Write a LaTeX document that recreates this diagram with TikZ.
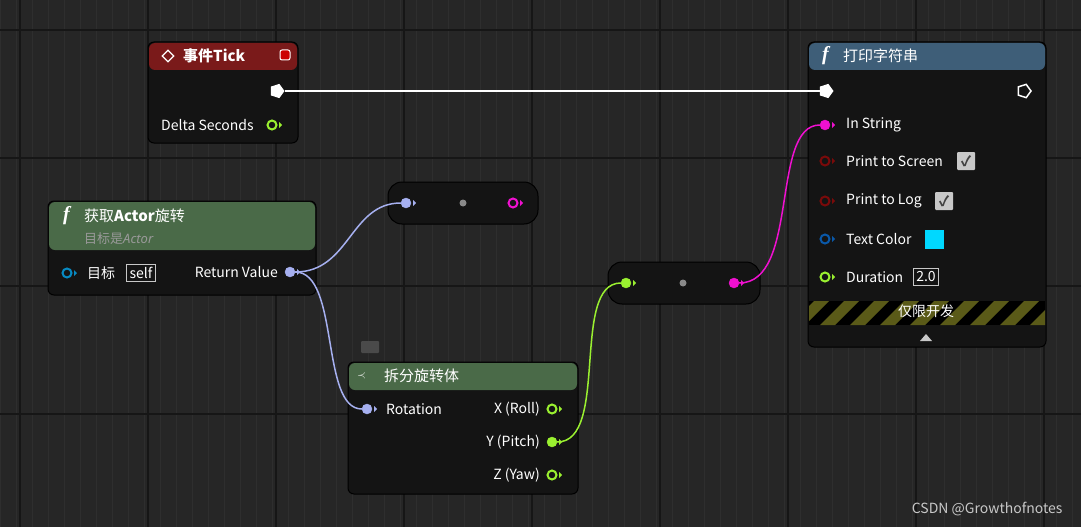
\documentclass[tikz,border=0pt]{standalone}
\usepackage{fontspec}
\setmainfont{Noto Sans CJK SC}
\newfontfamily\lat{Noto Sans}
\newfontfamily\serif{Liberation Serif}
\usetikzlibrary{shapes.geometric,calc}
\definecolor{bg}{HTML}{262626}
\definecolor{grid1}{HTML}{2E2E2E}
\definecolor{grid2}{HTML}{161616}
\definecolor{body}{HTML}{141414}
\definecolor{hred}{HTML}{7A1A1A}
\definecolor{hblue}{HTML}{3E5E78}
\definecolor{hgreen}{HTML}{4A6A48}
\definecolor{lav}{HTML}{A6B0F0}
\definecolor{mag}{HTML}{F010D0}
\definecolor{lgreen}{HTML}{9AF030}
\definecolor{dred}{HTML}{7A0A0A}
\definecolor{dblue}{HTML}{0A58A8}
\definecolor{cyanbox}{HTML}{00D8FF}
\definecolor{haz}{HTML}{5A5A18}
\definecolor{chkgrey}{HTML}{C8C8C8}
\definecolor{dotgrey}{HTML}{8A8A8A}
\definecolor{cmtgrey}{HTML}{4A4A4A}
\tikzset{x=1pt,y=-1pt,
 bp/.style={draw=black,line width=1pt,fill=body,rounded corners=6pt},
 txt/.style={text=white,font=\fontsize{14}{16}\selectfont,inner sep=0pt},
 ttl/.style={text=white,font=\fontsize{15}{17}\selectfont\bfseries,inner sep=0pt,anchor=west},
 fsym/.style={text=white,font=\fontsize{20}{20}\selectfont\serif\itshape\bfseries,inner sep=0pt,anchor=west},
 pin/.style={circle,inner sep=0pt,minimum size=10pt,fill=#1,draw=#1},
 opin/.style={circle,inner sep=0pt,minimum size=9pt,draw=#1,line width=2pt},
 wire/.style={line width=1.5pt,#1},
 box/.style={txt,draw=chkgrey,line width=1pt,inner sep=3pt},
 chk/.style={fill=chkgrey,minimum size=18pt,inner sep=0pt,rounded corners=1pt,text=black!75,font=\bfseries\fontsize{14}{14}\selectfont}
}
\newcommand{\pintri}[2]{\fill[#2] ($(#1)+(7,-3)$) -- ($(#1)+(10,0)$) -- ($(#1)+(7,3)$) -- cycle;}
\begin{document}
\begin{tikzpicture}
\useasboundingbox (0,0) rectangle (1081,527);
\fill[bg] (0,0) rectangle (1081,527);
\draw[grid1,line width=0.6pt] (0,0) grid[step=16] (1081,527);
\foreach \x in {20,148,276,404,532,660,788,916,1044} \draw[grid2,line width=1.2pt] (\x,0)--(\x,527);
\foreach \y in {30,158,286,414} \draw[grid2,line width=1.2pt] (0,\y)--(1081,\y);
% Event Tick
\draw[bp] (148,42) rectangle (298,143);
\fill[hred,rounded corners=6pt] (149,43) rectangle (297,70);
\node[draw=white,diamond,inner sep=3pt,line width=1.2pt] (tickicon) at (168,56) {};
\node[ttl] (ticktitle) at (183,56) {事件Tick};
\node[draw=white,fill=red!80!black,rounded corners=2pt,minimum size=10pt,inner sep=0pt,line width=1pt] (tickstop) at (285,55) {};
\node[fill=white,shape=regular polygon,regular polygon sides=5,minimum size=15pt,inner sep=0pt,shape border rotate=-90] (tickexec) at (277,91) {};
\node[txt,anchor=west] (delta) at (161,125) {Delta Seconds};
\node[opin=lgreen] (deltapin) at (272,125) {};
\pintri{deltapin}{lgreen}
% Print string
\draw[bp] (808,42) rectangle (1046,347);
\fill[hblue,rounded corners=6pt] (809,43) rectangle (1045,70);
\node[fsym] (pf) at (822,56) {f};
\node[ttl,font=\fontsize{15}{17}\selectfont] (ptitle) at (843,56) {打印字符串};
\node[fill=white,shape=regular polygon,regular polygon sides=5,minimum size=15pt,inner sep=0pt,shape border rotate=-90] (pexec) at (826,91) {};
\node[draw=white,line width=1.5pt,shape=regular polygon,regular polygon sides=5,minimum size=14pt,inner sep=0pt,shape border rotate=-90] (pexecout) at (1024,91) {};
\node[pin=mag] (instr) at (825,125) {}; \pintri{instr}{mag}
\node[txt,anchor=west] at (846,125) {In String};
\node[opin=dred] (pscr) at (825,161) {}; \pintri{pscr}{dred}
\node[txt,anchor=west] (pscrt) at (846,161) {Print to Screen};
\node[chk] at (966,161) {✓};
\node[opin=dred] (plog) at (825,201) {}; \pintri{plog}{dred}
\node[txt,anchor=west] at (846,201) {Print to Log};
\node[chk] at (944,201) {✓};
\node[opin=dblue] (pcol) at (825,239) {}; \pintri{pcol}{dblue}
\node[txt,anchor=west] at (846,239) {Text Color};
\node[fill=cyanbox,minimum size=19pt,inner sep=0pt] at (934,239) {};
\node[opin=lgreen] (pdur) at (825,277) {}; \pintri{pdur}{lgreen}
\node[txt,anchor=west] at (846,277) {Duration};
\node[box] at (926,277) {2.0};
\begin{scope}
\clip (809,301) rectangle (1045,325);
\fill[black] (809,301) rectangle (1045,325);
\foreach \i in {0,...,10} \fill[haz] ({790+\i*30},325) -- ({805+\i*30},325) -- ({829+\i*30},301) -- ({814+\i*30},301) -- cycle;
\end{scope}
\node[txt] at (926,311) {仅限开发};
\fill[chkgrey] (920,341) -- (932,341) -- (926,334) -- cycle;
% Get actor rotation
\draw[bp] (48,201) rectangle (316,295);
\fill[hgreen,rounded corners=6pt] (49,202) rectangle (315,250);
\node[fsym] at (63,216) {f};
\node[ttl,font=\fontsize{15}{17}\selectfont] at (84,216) {获取\textbf{Actor}旋转};
\node[txt,anchor=west,text=white!60!black,font=\fontsize{13}{15}\selectfont] at (84,239) {目标是{\lat\itshape Actor}};
\node[opin=dblue!70!cyan] (tgt) at (67,273) {}; \pintri{tgt}{dblue!70!cyan}
\node[txt,anchor=west] at (87,273) {目标};
\node[box] at (141,273) {self};
\node[txt,anchor=east] at (278,272) {Return Value};
\node[pin=lav] (ret) at (290,272) {}; \pintri{ret}{lav}
% reroute 1
\draw[bp,rounded corners=14pt] (388,182) rectangle (538,224);
\node[pin=lav] (r1in) at (406,203) {}; \pintri{r1in}{lav}
\fill[dotgrey] (463,203) circle (3.5);
\node[opin=mag] (r1out) at (513,203) {}; \pintri{r1out}{mag}
% reroute 2
\draw[bp,rounded corners=14pt] (608,262) rectangle (760,304);
\node[pin=lgreen] (r2in) at (626,283) {}; \pintri{r2in}{lgreen}
\fill[dotgrey] (683,283) circle (3.5);
\node[pin=mag] (r2out) at (734,283) {}; \pintri{r2out}{mag}
% break rotator
\node[fill=cmtgrey,minimum width=18pt,minimum height=12pt,inner sep=0pt,rounded corners=1pt] (cmt) at (370,347) {};
\draw[bp] (348,362) rectangle (578,494);
\fill[hgreen,rounded corners=6pt] (349,363) rectangle (577,390);
\node[ttl,font=\fontsize{11}{12}\selectfont] at (357,376) {$\prec$};
\node[ttl,font=\fontsize{15}{17}\selectfont] at (384,376) {拆分旋转体};
\node[pin=lav] (rot) at (367,409) {}; \pintri{rot}{lav}
\node[txt,anchor=west] at (386,409) {Rotation};
\node[txt,anchor=east] at (540,409) {X (Roll)};
\node[opin=lgreen] (xr) at (552,409) {}; \pintri{xr}{lgreen}
\node[txt,anchor=east] at (540,442) {Y (Pitch)};
\node[pin=lgreen] (yp) at (552,442) {}; \pintri{yp}{lgreen}
\node[txt,anchor=east] at (540,475) {Z (Yaw)};
\node[opin=lgreen] (zy) at (552,475) {}; \pintri{zy}{lgreen}
% wires
\draw[wire=white,line width=2.5pt] (tickexec.east) -- (pexec.west);
\draw[wire=lav] (ret.east) .. controls (350,272) and (350,203) .. (r1in.west);
\draw[wire=lav] (ret.east) .. controls (340,272) and (320,409) .. (rot.west);
\draw[wire=lgreen] (yp.east) .. controls (610,442) and (570,283) .. (r2in.west);
\draw[wire=mag] (r2out.east) .. controls (800,283) and (770,125) .. (instr.west);
\node[text=chkgrey,font=\fontsize{14}{16}\selectfont,anchor=east] (wm) at (1066,509) {CSDN @Growthofnotes};
\end{tikzpicture}
\end{document}
